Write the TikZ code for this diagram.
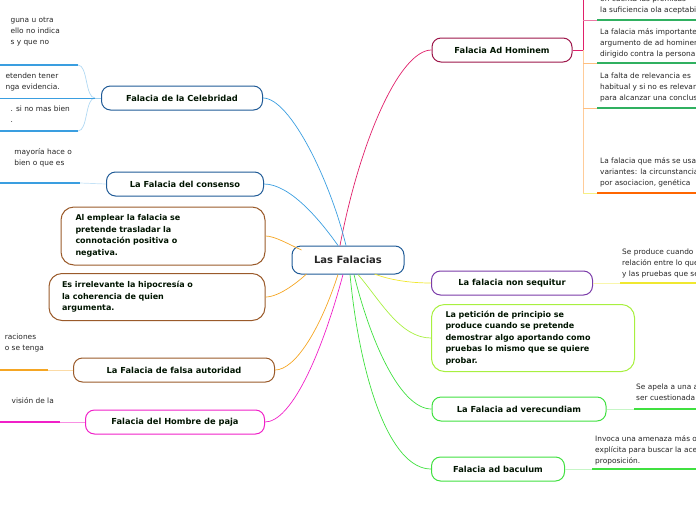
\documentclass[tikz,border=0pt]{standalone}
\usepackage{fontspec}
\setmainfont{DejaVu Sans}
\begin{document}
\begin{tikzpicture}[x=1pt,y=-1pt,
  topic/.style={draw,rounded corners=9pt,line width=1pt,font=\bfseries\fontsize{8.3}{10}\selectfont,text=black!80!green!40!black,inner sep=0pt,minimum height=24pt},
  para/.style={draw,rounded corners=13pt,line width=1pt,font=\bfseries\fontsize{8}{11.5}\selectfont,text=black!80!green!40!black,align=left,inner sep=0pt},
  leaf/.style={font=\fontsize{7.4}{11}\selectfont,align=left,anchor=north west,inner sep=0pt,text=black!85},
  conn/.style={line width=0.7pt}]
\definecolor{cblue}{HTML}{3A9EE0}
\definecolor{dblue}{HTML}{1F5A96}
\definecolor{brn}{HTML}{9A5A2A}
\definecolor{org}{HTML}{F5A623}
\definecolor{mag}{HTML}{F020C8}
\definecolor{crim}{HTML}{E0206A}
\definecolor{purp}{HTML}{7A3AA8}
\definecolor{yel}{HTML}{F0E830}
\definecolor{lgrn}{HTML}{A8F040}
\definecolor{grn}{HTML}{40E040}
\definecolor{dgrn}{HTML}{30B060}
\useasboundingbox (0,0) rectangle (696,520);
\clip (0,0) rectangle (696,520);
% center
\node[topic,draw=dblue,minimum width=112pt,minimum height=28pt,font=\bfseries\fontsize{10}{11}\selectfont,text=black!85] (c) at (348,260) {Las Falacias};
% right topics
\node[topic,draw=crim!70!black,minimum width=140pt] (ah) at (502,50) {Falacia Ad Hominem};
\node[topic,draw=purp,minimum width=161pt] (ns) at (512,283) {La falacia non sequitur};
\node[para,draw=lgrn,text width=175pt,minimum width=203pt,minimum height=67pt] (pp) at (533,338) {\raggedright La petición de principio se\\produce cuando se pretende\\demostrar algo aportando como\\pruebas lo mismo que se quiere\\probar.};
\node[topic,draw=grn,minimum width=174pt] (ve) at (519,409) {La Falacia ad verecundiam};
\node[topic,draw=grn,minimum width=133pt] (ba) at (498,469) {Falacia ad baculum};
% left topics
\node[topic,draw=dblue,minimum width=161pt] (ce) at (182,98) {Falacia de la Celebridad};
\node[topic,draw=dblue,minimum width=157pt] (co) at (185,184) {La Falacia del consenso};
\node[para,draw=brn,text width=175pt,minimum width=204pt,minimum height=58pt] (ae) at (163,236) {\raggedright Al emplear la falacia se\\pretende trasladar la\\connotación positiva o\\negativa.};
\node[para,draw=brn,text width=190pt,minimum width=216pt,minimum height=47pt] (ei) at (157,297) {\raggedright Es irrelevante la hipocresía o\\la coherencia de quien\\argumenta.};
\node[topic,draw=brn,minimum width=201pt] (fa) at (174,370) {La Falacia de falsa autoridad};
\node[topic,draw=mag,minimum width=179pt] (hp) at (175,422) {Falacia del Hombre de paja};
% connectors from center
\draw[conn,crim] (c.north) ++(-8,0) .. controls (360,140) and (400,50) .. (ah.west);
\draw[conn,yel] (c.east) ++(-30,14) .. controls (390,280) and (410,283) .. (ns.west);
\draw[conn,lgrn] (c.south) ++(10,0) .. controls (380,300) and (400,338) .. (pp.west);
\draw[conn,grn] (c.south) ++(6,0) .. controls (370,340) and (400,409) .. (ve.west);
\draw[conn,grn] (c.south) ++(2,0) .. controls (360,380) and (390,469) .. (ba.west);
\draw[conn,cblue] (c.north) ++(-2,0) .. controls (330,180) and (290,98) .. (ce.east);
\draw[conn,cblue] (c.north) ++(-10,0) .. controls (320,220) and (290,184) .. (co.east);
\draw[conn,org] (c.west) ++(10,-10) .. controls (290,245) and (275,236) .. (ae.east);
\draw[conn,org] (c.west) ++(15,14) .. controls (300,280) and (280,297) .. (ei.east);
\draw[conn,org] (c.south) ++(-10,0) .. controls (320,330) and (295,370) .. (fa.east);
\draw[conn,mag] (c.south) ++(-5,0) .. controls (320,360) and (290,422) .. (hp.east);
% Ad Hominem leaves
\coordinate (v) at (583,50);
\draw[conn,crim] (ah.east) -- (v) -- (583,0);
\draw[conn,orange!40] (v) -- (583,193);
\draw[conn,crim!60] (583,20) -- (597,20);
\draw[conn,orange!50] (583,63) -- (597,63) (583,108) -- (597,108);
\draw[conn,yel!60] (583,193) -- (597,193);
\draw[line width=1.4pt,dgrn] (597,20) -- (696,20) (597,63) -- (696,63) (597,108) -- (696,108);
\draw[line width=1.4pt,orange!80!red] (597,193) -- (696,193);
\node[leaf] (l1) at (600,-4) {en cuenta las premisas\\la suficiencia ola aceptabilidad};
\node[leaf] (l2) at (600,28) {La falacia más importante\\argumento de ad hominem\\dirigido contra la persona};
\node[leaf] (l3) at (600,73) {La falta de relevancia es\\habitual y si no es relevante\\para alcanzar una conclusión};
\node[leaf] (l4) at (600,157) {La falacia que más se usa\\variantes: la circunstancial\\por asociacion, genética};
% other right leaves
\draw[conn,yel!40] (ns.east) -- (620,283);
\draw[line width=1.4pt,yel] (620,283) -- (696,283);
\node[leaf] at (622,249) {Se produce cuando no hay\\relación entre lo que se afirma\\y las pruebas que se aportan};
\draw[conn,grn!30] (ve.east) -- (634,409);
\draw[line width=1.4pt,grn] (634,409) -- (696,409);
\node[leaf] at (636,384) {Se apela a una autoridad\\ser cuestionada};
\draw[conn,grn!30] (ba.east) -- (592,469);
\draw[line width=1.4pt,grn] (592,469) -- (696,469);
\node[leaf] at (595,435) {Invoca una amenaza más o menos\\explícita para buscar la aceptación\\proposición.};
% Celebridad leaves
\coordinate (b) at (95,98);
\draw[conn,cblue!50] (ce.west) -- (b);
\draw[conn,cblue!40] (b) .. controls (85,98) and (88,65) .. (78,65);
\draw[conn,cblue!40] (b) .. controls (85,98) and (88,131) .. (78,131);
\draw[conn,cblue] (b) -- (0,98);
\draw[line width=1.4pt,cblue] (78,65) -- (0,65) (78,131) -- (0,131);
\node[leaf,anchor=north east] at (60,17) {guna u otra\\ello no indica\\s y que no};
\node[leaf,anchor=north east] at (60,73) {etenden tener\\nga evidencia.};
\node[leaf,anchor=north east] at (70,106) {. si no mas bien\\.};
\draw[conn,cblue!30] (co.west) -- (80,183);
\draw[line width=1.4pt,cblue] (80,183) -- (0,183);
\node[leaf,anchor=north east] at (72,148) {mayoría hace o\\bien o que es};
\draw[conn,org!40] (fa.west) -- (48,370);
\draw[line width=1.4pt,org] (48,370) -- (0,370);
\node[leaf,anchor=north east] at (44,334) {raciones\\o se tenga};
\draw[conn,mag!50] (hp.west) -- (60,422);
\draw[line width=1.4pt,mag] (60,422) -- (0,422);
\node[leaf,anchor=north east] at (54,397) {visión de la};
\end{tikzpicture}
\end{document}
